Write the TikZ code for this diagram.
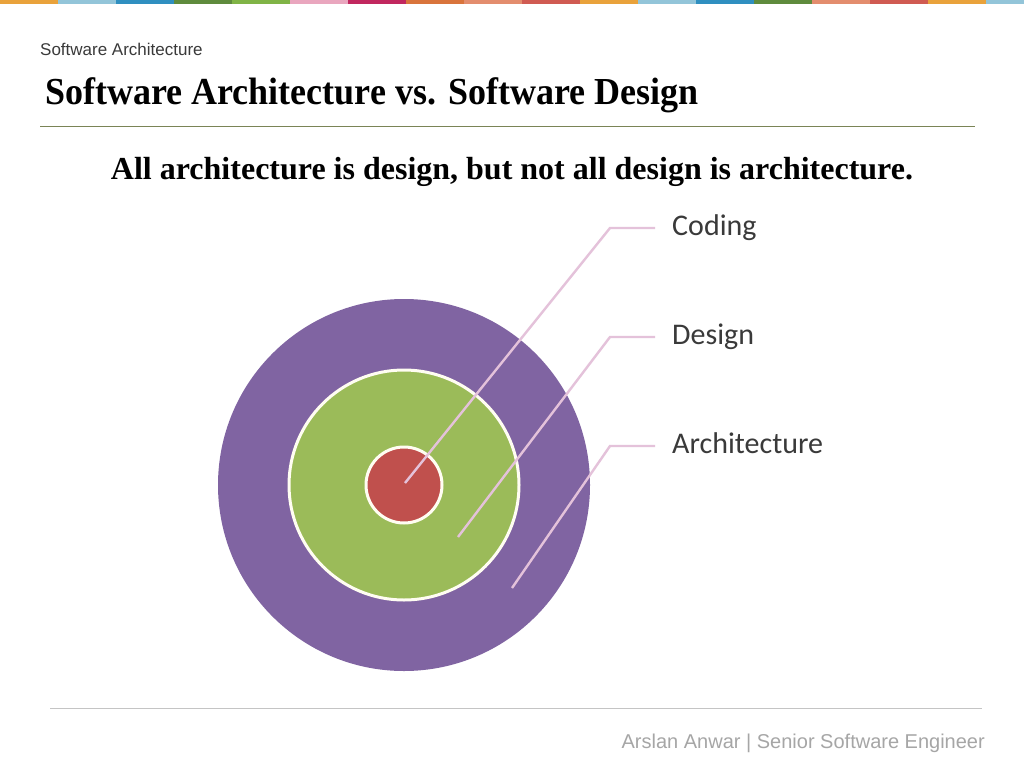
\documentclass[tikz,border=0pt]{standalone}
\usepackage{fontspec}
\setmainfont{Liberation Serif}
\setsansfont{Liberation Sans}
\newfontfamily\calibrifont{Carlito}
\definecolor{ringpurple}{HTML}{8064A2}
\definecolor{ringgreen}{HTML}{9BBB59}
\definecolor{ringred}{HTML}{C0504D}
\definecolor{ringedge}{HTML}{FFFDF2}
\definecolor{calloutpink}{HTML}{E4C2DA}
\definecolor{labelgray}{HTML}{3A3A3A}
\definecolor{headgray}{HTML}{3A3A3A}
\definecolor{footgray}{HTML}{A6A6A6}
\definecolor{titlerule}{HTML}{7A8456}
\definecolor{footrule}{HTML}{C4C4C4}
\definecolor{barorange}{HTML}{E9A23B}
\definecolor{barsky}{HTML}{93C5D9}
\definecolor{barblue}{HTML}{2F8FC0}
\definecolor{bargreen}{HTML}{5F8B3D}
\definecolor{barlime}{HTML}{80B446}
\definecolor{barpink}{HTML}{E9A6BE}
\definecolor{barmagenta}{HTML}{C1275F}
\definecolor{barrust}{HTML}{D9743C}
\definecolor{barsalmon}{HTML}{E38D6E}
\definecolor{barred}{HTML}{D05B52}
\begin{document}
\begin{tikzpicture}[x=1pt,y=-1pt,
	ring/.style={circle, inner sep=0pt},
	callout/.style={draw=calloutpink, line width=2.4pt},
	ringlabel/.style={anchor=west, inner xsep=17pt, inner ysep=0pt, text height=20pt, text depth=6pt,
		font=\calibrifont\fontsize{30}{36}\selectfont, text=labelgray}]
	\useasboundingbox (0,0) rectangle (1024,768);
	\fill[white] (0,0) rectangle (1024,768);
	\foreach \c [count=\i from 0] in {barorange, barsky, barblue, bargreen, barlime, barpink,
		barmagenta, barrust, barsalmon, barred, barorange, barsky, barblue, bargreen,
		barsalmon, barred, barorange, barsky}
		\fill[\c] (\i*58,0) rectangle ++(58,4);

	\node (header) at (40,56)	[anchor=base west, inner sep=0pt, font=\sffamily\fontsize{17}{20}\selectfont, text=headgray]	{Software Architecture};
	\node (title) at (45,104)	[anchor=base west, inner sep=0pt, yscale=1.06, transform shape, font=\bfseries\fontsize{36}{40}\selectfont]	{Software Architecture vs. Software Design};
	\draw[titlerule, line width=1pt] (40,126) -- (975,126);
	\node (motto) at (512,179)	[anchor=base, inner sep=0pt, font=\bfseries\fontsize{32}{36}\selectfont]	{All architecture is design, but not all design is architecture.};

	\node (arch) at (404,485)	[ring, fill=ringpurple, minimum size=372pt]	{};
	\node (design) at (404,485)	[ring, fill=ringgreen, draw=ringedge, line width=3pt, minimum size=230pt]	{};
	\node (coding) at (404,485)	[ring, fill=ringred, draw=ringedge, line width=3pt, minimum size=76pt]	{};

	\coordinate (codingtip) at (405,483);
	\coordinate (designtip) at (458,537);
	\coordinate (archtip) at (512,588);
	\coordinate (codingbend) at (610,228);
	\coordinate (designbend) at (610,337);
	\coordinate (archbend) at (610,446);
	\node (codinglbl) at (655,228)	[ringlabel]	{Coding};
	\node (designlbl) at (655,337)	[ringlabel]	{Design};
	\node (archlbl) at (655,446)	[ringlabel]	{Architecture};
	\draw[callout] (codingtip) -- (codingbend) -- (codinglbl.west);
	\draw[callout] (designtip) -- (designbend) -- (designlbl.west);
	\draw[callout] (archtip) -- (archbend) -- (archlbl.west);

	\draw[footrule, line width=1pt] (50,708) -- (982,708);
	\node (footer) at (985,748)	[anchor=base east, inner sep=0pt, font=\sffamily\fontsize{20}{24}\selectfont, text=footgray]	{Arslan Anwar | Senior Software Engineer};
\end{tikzpicture}
\end{document}
